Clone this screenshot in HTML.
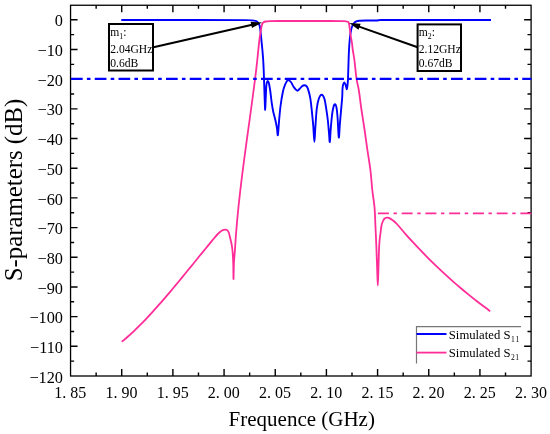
<!DOCTYPE html>
<html><head><meta charset="utf-8"><style>
html,body{margin:0;padding:0;background:#fff;}
svg{display:block;}
text{font-family:"Liberation Serif","Times New Roman",serif;fill:#000;}
</style></head><body>
<svg width="550" height="434" viewBox="0 0 550 434">
<rect width="550" height="434" fill="#fff"/>
<!-- frame -->
<rect x="70.55" y="5.25" width="460.55" height="370.75" fill="none" stroke="#000" stroke-width="1.3"/>
<path d="M96.14 376.00v-3.6 M96.14 5.25v3.6 M121.72 376.00v-7.0 M121.72 5.25v7.0 M147.31 376.00v-3.6 M147.31 5.25v3.6 M172.89 376.00v-7.0 M172.89 5.25v7.0 M198.48 376.00v-3.6 M198.48 5.25v3.6 M224.07 376.00v-7.0 M224.07 5.25v7.0 M249.65 376.00v-3.6 M249.65 5.25v3.6 M275.24 376.00v-7.0 M275.24 5.25v7.0 M300.83 376.00v-3.6 M300.83 5.25v3.6 M326.41 376.00v-7.0 M326.41 5.25v7.0 M352.00 376.00v-3.6 M352.00 5.25v3.6 M377.58 376.00v-7.0 M377.58 5.25v7.0 M403.17 376.00v-3.6 M403.17 5.25v3.6 M428.76 376.00v-7.0 M428.76 5.25v7.0 M454.34 376.00v-3.6 M454.34 5.25v3.6 M479.93 376.00v-7.0 M479.93 5.25v7.0 M505.51 376.00v-3.6 M505.51 5.25v3.6 M70.55 19.80h7.0 M531.10 19.80h-7.0 M70.55 34.64h3.6 M531.10 34.64h-3.6 M70.55 49.48h7.0 M531.10 49.48h-7.0 M70.55 64.33h3.6 M531.10 64.33h-3.6 M70.55 79.17h7.0 M531.10 79.17h-7.0 M70.55 94.01h3.6 M531.10 94.01h-3.6 M70.55 108.85h7.0 M531.10 108.85h-7.0 M70.55 123.69h3.6 M531.10 123.69h-3.6 M70.55 138.53h7.0 M531.10 138.53h-7.0 M70.55 153.38h3.6 M531.10 153.38h-3.6 M70.55 168.22h7.0 M531.10 168.22h-7.0 M70.55 183.06h3.6 M531.10 183.06h-3.6 M70.55 197.90h7.0 M531.10 197.90h-7.0 M70.55 212.74h3.6 M531.10 212.74h-3.6 M70.55 227.58h7.0 M531.10 227.58h-7.0 M70.55 242.43h3.6 M531.10 242.43h-3.6 M70.55 257.27h7.0 M531.10 257.27h-7.0 M70.55 272.11h3.6 M531.10 272.11h-3.6 M70.55 286.95h7.0 M531.10 286.95h-7.0 M70.55 301.79h3.6 M531.10 301.79h-3.6 M70.55 316.63h7.0 M531.10 316.63h-7.0 M70.55 331.48h3.6 M531.10 331.48h-3.6 M70.55 346.32h7.0 M531.10 346.32h-7.0 M70.55 361.16h3.6 M531.10 361.16h-3.6" stroke="#000" stroke-width="1.4" fill="none"/>
<!-- curves -->
<path d="M121.30 20.00 C134.42 20.00 179.38 19.98 200.00 20.00 C220.62 20.02 236.33 20.03 245.00 20.10 C253.67 20.17 250.27 20.27 252.00 20.40 C253.73 20.53 254.50 20.65 255.40 20.90 C256.30 21.15 256.78 21.32 257.40 21.90 C258.02 22.48 258.68 23.55 259.10 24.40 C259.52 25.25 259.65 25.73 259.90 27.00 C260.15 28.27 260.38 30.17 260.60 32.00 C260.82 33.83 260.90 35.00 261.20 38.00 C261.50 41.00 262.07 46.33 262.40 50.00 C262.73 53.67 262.98 56.67 263.20 60.00 C263.42 63.33 263.55 66.33 263.70 70.00 C263.85 73.67 263.95 77.50 264.10 82.00 C264.25 86.50 264.42 92.37 264.60 97.00 C264.78 101.63 265.00 109.97 265.20 109.80 C265.40 109.63 265.60 100.13 265.80 96.00 C266.00 91.87 266.13 87.45 266.40 85.00 C266.67 82.55 267.02 81.72 267.40 81.30 C267.78 80.88 268.23 80.97 268.70 82.50 C269.17 84.03 269.70 87.15 270.20 90.50 C270.70 93.85 271.20 99.10 271.70 102.60 C272.20 106.10 272.58 108.55 273.20 111.50 C273.82 114.45 274.78 117.60 275.40 120.30 C276.02 123.00 276.48 125.23 276.90 127.70 C277.32 130.17 277.53 136.33 277.90 135.10 C278.27 133.87 278.65 125.23 279.10 120.30 C279.55 115.37 279.98 110.18 280.60 105.50 C281.22 100.82 282.07 95.63 282.80 92.20 C283.53 88.77 284.15 86.90 285.00 84.90 C285.85 82.90 286.92 80.68 287.90 80.20 C288.88 79.72 289.92 80.85 290.90 82.00 C291.88 83.15 292.75 85.65 293.80 87.10 C294.85 88.55 296.25 90.38 297.20 90.70 C298.15 91.02 298.70 89.75 299.50 89.00 C300.30 88.25 301.17 86.82 302.00 86.20 C302.83 85.58 303.75 85.30 304.50 85.30 C305.25 85.30 305.88 85.48 306.50 86.20 C307.12 86.92 307.55 87.50 308.20 89.60 C308.85 91.70 309.77 94.95 310.40 98.80 C311.03 102.65 311.52 108.08 312.00 112.70 C312.48 117.32 312.90 121.67 313.30 126.50 C313.70 131.33 314.05 141.70 314.40 141.70 C314.75 141.70 315.00 132.03 315.40 126.50 C315.80 120.97 316.23 113.12 316.80 108.50 C317.37 103.88 318.00 101.10 318.80 98.80 C319.60 96.50 320.67 94.70 321.60 94.70 C322.53 94.70 323.60 96.27 324.40 98.80 C325.20 101.33 325.83 106.37 326.40 109.90 C326.97 113.43 327.37 116.17 327.80 120.00 C328.23 123.83 328.67 129.22 329.00 132.90 C329.33 136.58 329.52 142.67 329.80 142.10 C330.08 141.53 330.32 134.10 330.70 129.50 C331.08 124.90 331.62 118.33 332.10 114.50 C332.58 110.67 333.10 108.22 333.60 106.50 C334.10 104.78 334.62 104.02 335.10 104.20 C335.58 104.38 336.08 105.30 336.50 107.60 C336.92 109.90 337.22 113.02 337.60 118.00 C337.98 122.98 338.42 136.55 338.80 137.50 C339.18 138.45 339.52 128.28 339.90 123.70 C340.28 119.12 340.72 114.40 341.10 110.00 C341.48 105.60 341.97 100.80 342.20 97.30 C342.43 93.80 342.35 91.08 342.50 89.00 C342.65 86.92 342.80 85.88 343.10 84.80 C343.40 83.72 343.87 82.43 344.30 82.50 C344.73 82.57 345.28 84.05 345.70 85.20 C346.12 86.35 346.50 89.40 346.80 89.40 C347.10 89.40 347.32 86.67 347.50 85.20 C347.68 83.73 347.80 82.13 347.90 80.60 C348.00 79.07 347.98 79.43 348.10 76.00 C348.22 72.57 348.45 64.33 348.60 60.00 C348.75 55.67 348.82 53.33 349.00 50.00 C349.18 46.67 349.42 43.00 349.70 40.00 C349.98 37.00 350.30 34.25 350.70 32.00 C351.10 29.75 351.52 28.03 352.10 26.50 C352.68 24.97 353.38 23.70 354.20 22.80 C355.02 21.90 356.03 21.45 357.00 21.10 C357.97 20.75 358.50 20.80 360.00 20.70 C361.50 20.60 363.33 20.53 366.00 20.50 C368.67 20.47 373.75 20.57 376.00 20.50 C378.25 20.43 378.33 20.18 379.50 20.10 C380.67 20.02 379.58 20.02 383.00 20.00 C386.42 19.98 382.00 20.00 400.00 20.00 C418.00 20.00 475.83 20.00 491.00 20.00" stroke="#0000ff" stroke-width="1.9" fill="none" stroke-linejoin="round"/>
<path d="M121.70 341.80 C122.70 340.95 125.70 338.45 127.70 336.70 C129.70 334.95 131.70 333.18 133.70 331.30 C135.70 329.43 137.70 327.45 139.70 325.45 C141.70 323.45 143.70 321.39 145.70 319.30 C147.70 317.21 149.70 315.08 151.70 312.90 C153.70 310.72 155.70 308.46 157.70 306.20 C159.70 303.94 161.70 301.67 163.70 299.35 C165.70 297.03 167.70 294.68 169.70 292.30 C171.70 289.93 173.70 287.50 175.70 285.10 C177.70 282.70 179.70 280.33 181.70 277.90 C183.70 275.47 185.70 272.95 187.70 270.50 C189.70 268.05 191.70 265.65 193.70 263.20 C195.70 260.75 197.70 258.25 199.70 255.80 C201.70 253.35 203.70 250.95 205.70 248.50 C207.70 246.05 210.17 242.97 211.70 241.10 C213.23 239.23 213.88 238.48 214.90 237.30 C215.92 236.12 216.85 234.98 217.80 234.00 C218.75 233.02 219.65 232.08 220.60 231.40 C221.55 230.72 222.63 230.20 223.50 229.90 C224.37 229.60 225.12 229.50 225.80 229.60 C226.48 229.70 227.07 229.88 227.60 230.50 C228.13 231.12 228.58 232.08 229.00 233.30 C229.42 234.52 229.72 236.23 230.10 237.80 C230.48 239.37 230.95 241.00 231.30 242.70 C231.65 244.40 231.93 245.78 232.20 248.00 C232.47 250.22 232.72 253.00 232.90 256.00 C233.08 259.00 233.20 262.17 233.30 266.00 C233.40 269.83 233.38 279.67 233.50 279.00 C233.62 278.33 233.76 266.83 234.00 262.00 C234.24 257.17 234.63 254.50 234.95 250.00 C235.27 245.50 235.57 240.00 235.94 235.00 C236.31 230.00 236.74 225.00 237.19 220.00 C237.64 215.00 238.14 210.00 238.67 205.00 C239.19 200.00 239.76 195.00 240.34 190.00 C240.92 185.00 241.54 180.00 242.17 175.00 C242.80 170.00 243.45 165.00 244.11 160.00 C244.77 155.00 245.45 150.00 246.13 145.00 C246.81 140.00 247.51 135.00 248.20 130.00 C248.89 125.00 249.59 120.00 250.27 115.00 C250.96 110.00 251.64 105.00 252.31 100.00 C252.98 95.00 253.65 90.00 254.29 85.00 C254.93 80.00 255.62 74.67 256.17 70.00 C256.72 65.33 257.25 60.33 257.60 57.00 C257.96 53.67 257.95 53.23 258.30 50.00 C258.65 46.77 259.28 40.83 259.70 37.60 C260.12 34.37 260.48 32.47 260.80 30.60 C261.12 28.73 261.33 27.58 261.60 26.40 C261.87 25.22 262.05 24.20 262.40 23.50 C262.75 22.80 263.18 22.53 263.70 22.20 C264.22 21.87 264.45 21.68 265.50 21.50 C266.55 21.32 267.58 21.18 270.00 21.10 C272.42 21.02 274.17 21.02 280.00 21.00 C285.83 20.98 296.67 21.00 305.00 21.00 C313.33 21.00 323.50 20.97 330.00 21.00 C336.50 21.03 341.17 21.10 344.00 21.20 C346.83 21.30 346.20 21.32 347.00 21.60 C347.80 21.88 348.35 21.77 348.80 22.90 C349.25 24.03 349.38 26.25 349.70 28.40 C350.02 30.55 350.32 33.33 350.70 35.80 C351.08 38.27 351.65 40.83 352.00 43.20 C352.35 45.57 352.40 47.20 352.80 50.00 C353.20 52.80 353.78 55.22 354.40 60.00 C355.02 64.78 355.77 73.70 356.50 78.70 C357.23 83.70 357.97 84.78 358.80 90.00 C359.63 95.22 360.53 103.33 361.50 110.00 C362.47 116.67 363.62 123.33 364.60 130.00 C365.58 136.67 366.43 143.33 367.40 150.00 C368.37 156.67 369.58 163.33 370.40 170.00 C371.22 176.67 371.62 183.83 372.30 190.00 C372.98 196.17 373.98 201.17 374.50 207.00 C375.02 212.83 375.07 217.83 375.40 225.00 C375.73 232.17 376.20 242.50 376.50 250.00 C376.80 257.50 376.98 264.08 377.20 270.00 C377.42 275.92 377.60 285.50 377.80 285.50 C378.00 285.50 378.20 275.92 378.40 270.00 C378.60 264.08 378.80 255.00 379.00 250.00 C379.20 245.00 379.37 242.67 379.60 240.00 C379.83 237.33 380.10 236.33 380.40 234.00 C380.70 231.67 380.97 228.17 381.40 226.00 C381.83 223.83 382.47 222.25 383.00 221.00 C383.53 219.75 383.97 219.07 384.60 218.50 C385.23 217.93 386.10 217.70 386.80 217.60 C387.50 217.50 387.95 217.55 388.80 217.90 C389.65 218.25 390.55 218.68 391.90 219.70 C393.25 220.72 394.73 221.73 396.90 224.00 C399.07 226.27 402.23 230.27 404.90 233.30 C407.57 236.33 410.23 239.30 412.90 242.20 C415.57 245.10 418.23 247.92 420.90 250.70 C423.57 253.48 426.23 256.23 428.90 258.90 C431.57 261.57 434.23 264.15 436.90 266.70 C439.57 269.25 442.23 271.75 444.90 274.20 C447.57 276.65 450.23 279.05 452.90 281.40 C455.57 283.75 458.23 286.05 460.90 288.30 C463.57 290.55 466.23 292.75 468.90 294.90 C471.57 297.05 474.23 299.13 476.90 301.20 C479.57 303.27 482.68 305.63 484.90 307.30 C487.12 308.97 489.32 310.55 490.20 311.20" stroke="#ff2d98" stroke-width="1.8" fill="none" stroke-linejoin="round"/>
<!-- reference lines -->
<path d="M71 78.8H531.5" stroke="#0000ff" stroke-width="2.3" stroke-dasharray="11.7 4.2 3.6 4.25" fill="none"/>
<path d="M377.9 213.4H531.5" stroke="#ff2d98" stroke-width="1.9" stroke-dasharray="11 4.6 3.4 4.75" fill="none"/>
<!-- tick labels -->
<g font-size="16">
<text x="54.35" y="397.6">1.<tspan dx="4">85</tspan></text>
<text x="105.52" y="397.6">1.<tspan dx="4">90</tspan></text>
<text x="156.69" y="397.6">1.<tspan dx="4">95</tspan></text>
<text x="207.87" y="397.6">2.<tspan dx="4">00</tspan></text>
<text x="259.04" y="397.6">2.<tspan dx="4">05</tspan></text>
<text x="310.21" y="397.6">2.<tspan dx="4">10</tspan></text>
<text x="361.38" y="397.6">2.<tspan dx="4">15</tspan></text>
<text x="412.56" y="397.6">2.<tspan dx="4">20</tspan></text>
<text x="463.73" y="397.6">2.<tspan dx="4">25</tspan></text>
<text x="514.90" y="397.6">2.<tspan dx="4">30</tspan></text>
</g>
<g font-size="16.3" text-anchor="end">
<text x="63" y="26.40">0</text>
<text x="63" y="56.08">&#8722;10</text>
<text x="63" y="85.77">&#8722;20</text>
<text x="63" y="115.45">&#8722;30</text>
<text x="63" y="145.13">&#8722;40</text>
<text x="63" y="174.82">&#8722;50</text>
<text x="63" y="204.50">&#8722;60</text>
<text x="63" y="234.18">&#8722;70</text>
<text x="63" y="263.87">&#8722;80</text>
<text x="63" y="293.55">&#8722;90</text>
<text x="63" y="323.23">&#8722;100</text>
<text x="63" y="352.92">&#8722;110</text>
<text x="63" y="382.60">&#8722;120</text>
</g>
<!-- axis titles -->
<text x="228.6" y="425.7" font-size="21">Frequence (GHz)</text>
<text transform="translate(22 281.2) rotate(-90)" font-size="24.8">S-parameters (dB)</text>
<!-- markers -->
<rect x="109" y="24" width="44" height="46.5" fill="#fff" stroke="#000" stroke-width="2"/>
<g font-size="11.6">
<text x="110.2" y="36.0">m<tspan font-size="7.8" dy="2.6">1</tspan><tspan dy="-2.6">:</tspan></text>
<text x="110.2" y="52.6">2.04GHz</text>
<text x="110.2" y="66.5">0.6dB</text>
</g>
<path d="M153.50 47.30L253.23 24.51" stroke="#000" stroke-width="2" fill="none"/><path d="M262.00 22.50L251.99 28.07L250.56 21.83Z" fill="#000"/>
<rect x="417.6" y="24.4" width="43.4" height="46.6" fill="#fff" stroke="#000" stroke-width="2"/>
<g font-size="11.6">
<text x="418.7" y="36.0">m<tspan font-size="7.8" dy="2.6">2</tspan><tspan dy="-2.6">:</tspan></text>
<text x="418.7" y="52.6">2.12GHz</text>
<text x="418.7" y="66.5">0.67dB</text>
</g>
<path d="M417.60 47.30L357.68 26.10" stroke="#000" stroke-width="2" fill="none"/><path d="M349.20 23.10L360.64 23.75L358.50 29.79Z" fill="#000"/>
<!-- legend -->
<path d="M416.5 363.5V326.6H521" stroke="#777" stroke-width="1.2" fill="none"/>
<path d="M416.5 334H446.5" stroke="#0000ff" stroke-width="2"/>
<path d="M416.5 352.6H446.5" stroke="#ff2d98" stroke-width="1.8"/>
<g font-size="12.7">
<text x="448.8" y="338.6">Simulated S<tspan font-size="7.6" dy="3.4" dx="0.6" letter-spacing="0.8">11</tspan></text>
<text x="448.8" y="356.6">Simulated S<tspan font-size="7.6" dy="3.4" dx="0.6" letter-spacing="0.4">21</tspan></text>
</g>
</svg>
</body></html>
